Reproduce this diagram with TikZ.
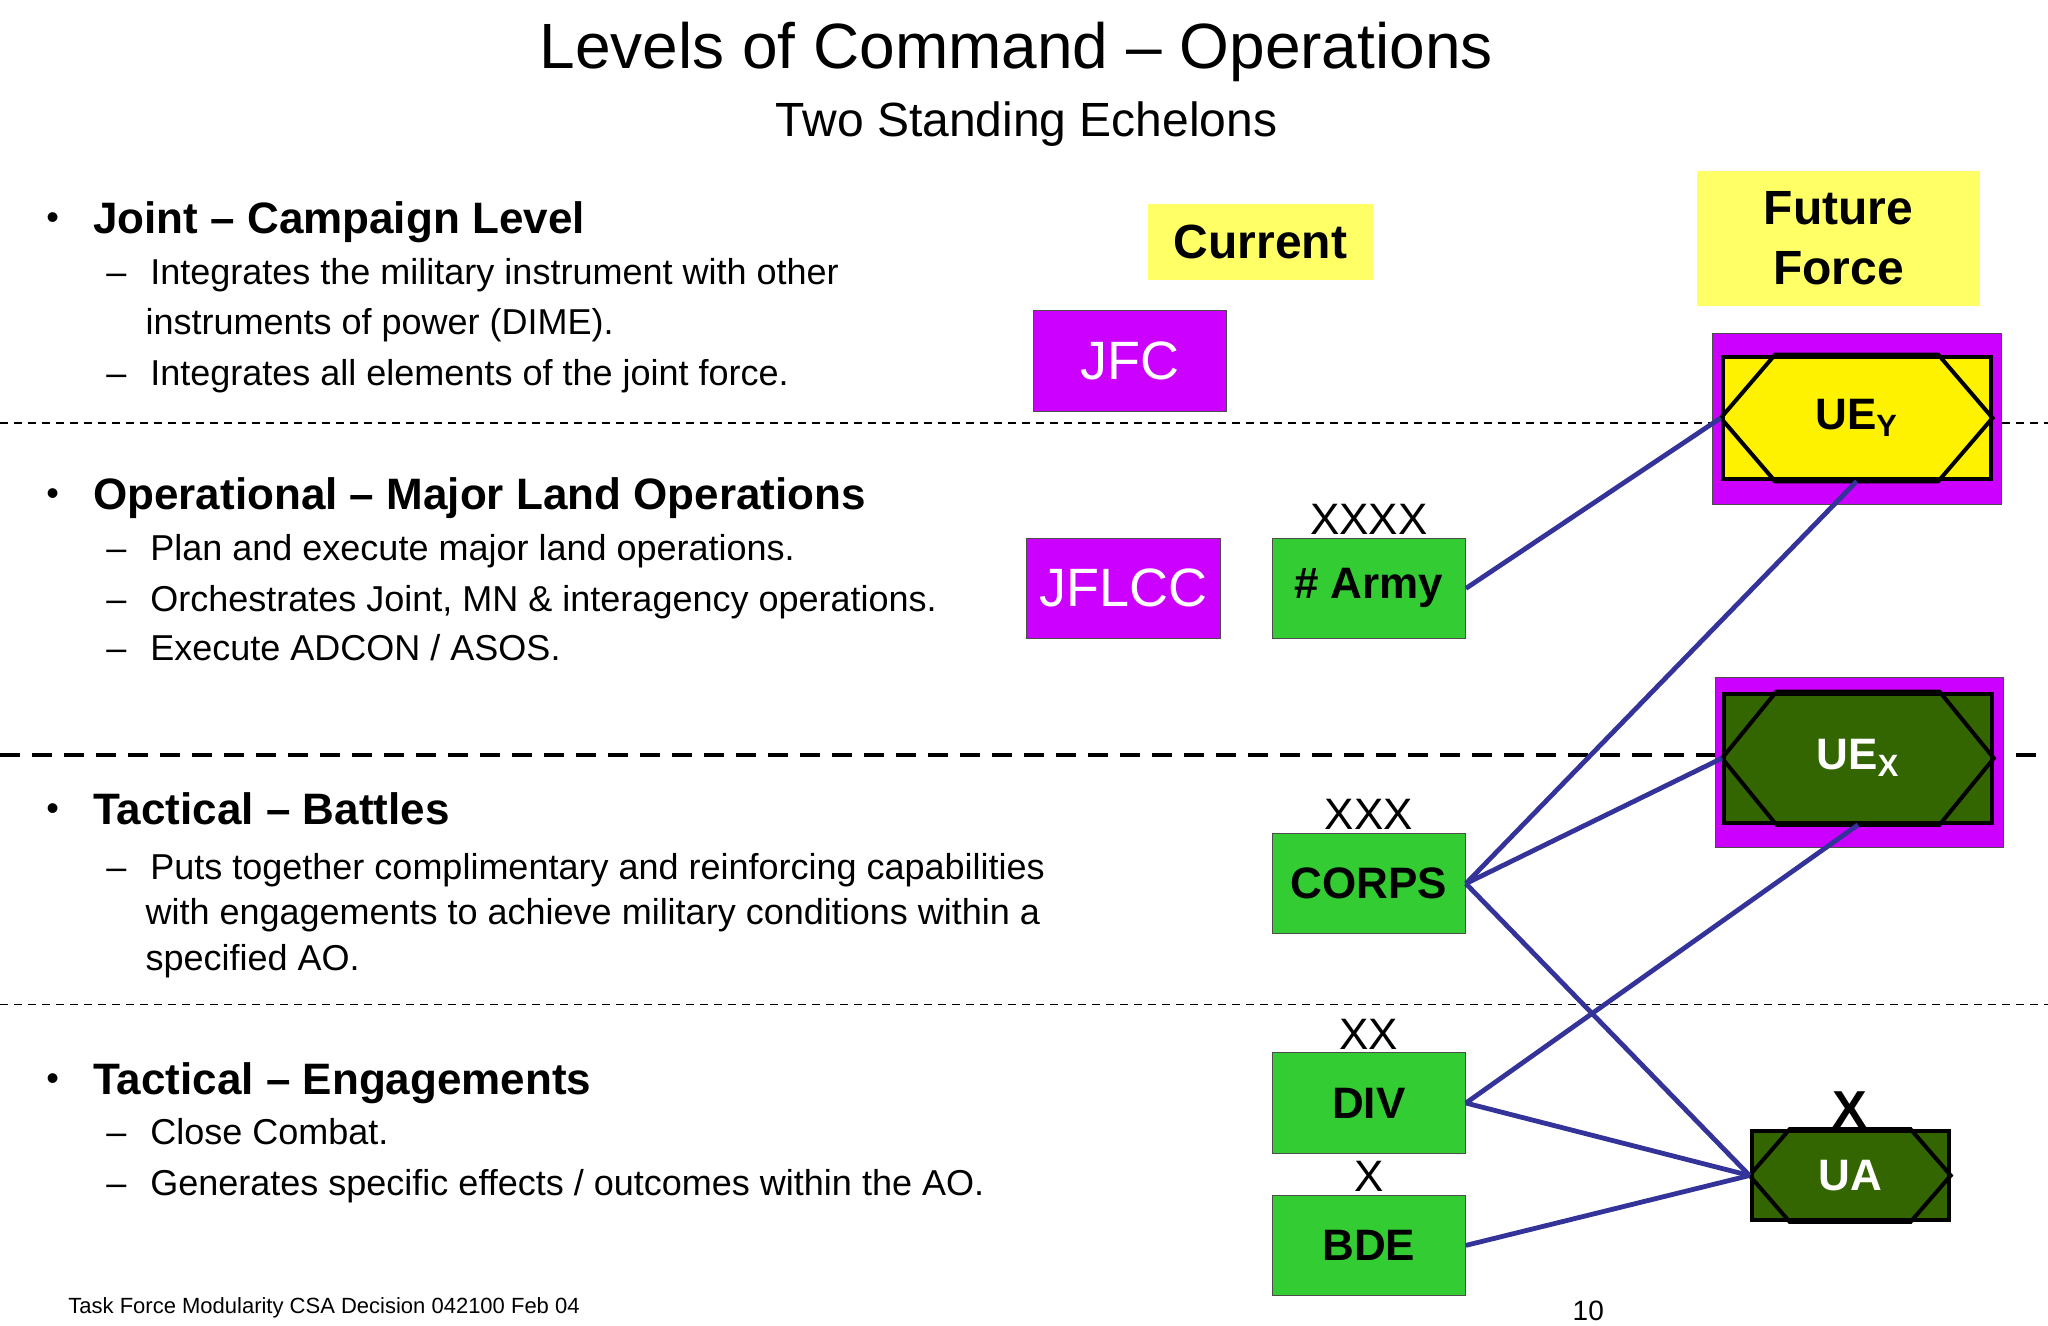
\documentclass[tikz,border=0pt]{standalone}
\usepackage{fontspec}
\setmainfont{Liberation Sans}
\usetikzlibrary{calc,positioning}
\definecolor{magbox}{HTML}{CC00FF}
\definecolor{grnbox}{HTML}{33CC33}
\definecolor{dkgreen}{HTML}{336600}
\definecolor{lblyel}{HTML}{FFFF66}
\definecolor{linkblue}{HTML}{333399}
\def\u{0.653pt}
\newcommand{\hexin}[1]{%
  \draw[line width=2pt] (#1.west) -- ($(#1.north west)!0.2!(#1.north east)$) -- ($(#1.north west)!0.8!(#1.north east)$)
    -- (#1.east) -- ($(#1.south west)!0.8!(#1.south east)$) -- ($(#1.south west)!0.2!(#1.south east)$) -- cycle;}
\begin{document}
\begin{tikzpicture}
  [ x=\u, y=-\u,
    head/.style={anchor=base west, font=\fontsize{22}{26}\selectfont\bfseries},
    item/.style={anchor=base west, font=\fontsize{18}{22}\selectfont},
    dot/.style={anchor=base west, font=\fontsize{18}{22}\selectfont},
    echelon/.style={draw=black!70, fill=grnbox, minimum width=148*\u, minimum height=77*\u,
      inner sep=0pt, font=\fontsize{22}{26}\selectfont\bfseries},
    joint/.style={draw=black!70, fill=magbox, minimum width=148*\u, minimum height=77*\u,
      inner sep=0pt, text=white, font=\fontsize{27}{30}\selectfont},
    marks/.style={font=\fontsize{22}{24}\selectfont, inner sep=0pt},
    link/.style={draw=linkblue, line width=2.4pt},
    sep/.style={dash pattern=on 4pt off 3pt, line width=0.8pt}
  ]
  \useasboundingbox (0,0) rectangle (1568,1014.5);
  % level separators
  \draw[sep] (0,324) -- (1568,324);
  \draw[dash pattern=on 10pt off 6pt, line width=2pt] (0,578) -- (1568,578);
  \draw[sep] (0,769) -- (1568,769);
  % title
  \node[font=\fontsize{32}{36}\selectfont] (title) at (778,40) {Levels of Command – Operations};
  \node[font=\fontsize{24}{28}\selectfont] (subtitle) at (786,95) {Two Standing Echelons};
  % bullets
  \node[dot] (b1) at (30,176) {•};
  \node[head] (h1) at (66,179) {Joint – Campaign Level};
  \node[item] (i11) at (76,218) {–\hspace{12pt}Integrates the military instrument with other};
  \node[item] (i12) at (106,256) {instruments of power (DIME).};
  \node[item] (i13) at (76,295) {–\hspace{12pt}Integrates all elements of the joint force.};
  \node[dot] (b2) at (30,387) {•};
  \node[head] (h2) at (66,390) {Operational – Major Land Operations};
  \node[item] (i21) at (76,429) {–\hspace{12pt}Plan and execute major land operations.};
  \node[item] (i22) at (76,468) {–\hspace{12pt}Orchestrates Joint, MN \& interagency operations.};
  \node[item] (i23) at (76,506) {–\hspace{12pt}Execute ADCON / ASOS.};
  \node[dot] (b3) at (30,628) {•};
  \node[head] (h3) at (66,631) {Tactical – Battles};
  \node[item] (i31) at (76,673) {–\hspace{12pt}Puts together complimentary and reinforcing capabilities};
  \node[item] (i32) at (106,708) {with engagements to achieve military conditions within a};
  \node[item] (i33) at (106,743) {specified AO.};
  \node[dot] (b4) at (30,835) {•};
  \node[head] (h4) at (66,838) {Tactical – Engagements};
  \node[item] (i41) at (76,876) {–\hspace{12pt}Close Combat.};
  \node[item] (i42) at (76,915) {–\hspace{12pt}Generates specific effects / outcomes within the AO.};
  % column labels
  \node[fill=lblyel, minimum width=172*\u, minimum height=58*\u, font=\fontsize{24}{28}\selectfont\bfseries] (current) at (965,185) {Current};
  \node[fill=lblyel, minimum width=217*\u, minimum height=103*\u, align=center, font=\fontsize{24}{30}\selectfont\bfseries] (future) at (1407.5,182.5) {Future\\Force};
  % current echelons
  \node[joint] (jfc) at (865,276.5) {JFC};
  \node[joint] (jflcc) at (860,450.5) {JFLCC};
  \node[echelon] (army) at (1048,450.5) {\# Army};
  \node[echelon] (corps) at (1048,676.5) {CORPS};
  \node[echelon] (div) at (1048,844.5) {DIV};
  \node[echelon] (bde) at (1048,953.5) {BDE};
  \node[marks, above=2*\u of army] (xxxx) {XXXX};
  \node[marks, above=2*\u of corps] (xxx) {XXX};
  \node[marks, above=2*\u of div] (xx) {XX};
  \node[marks, above=2*\u of bde] (x) {X};
  % future echelons
  \node[draw=black!70, fill=magbox, minimum width=221*\u, minimum height=131*\u] (ueyframe) at (1421.5,320.5) {};
  \node[draw, line width=2pt, fill=yellow, minimum width=205*\u, minimum height=94*\u, inner sep=0pt] (uey) at (1421.5,320) {};
  \hexin{uey}
  \node[font=\fontsize{22}{26}\selectfont\bfseries] at (uey) {UE\textsubscript{Y}};
  \node[draw=black!70, fill=magbox, minimum width=221*\u, minimum height=130*\u] (uexframe) at (1423.5,584) {};
  \node[draw, line width=2pt, fill=dkgreen, minimum width=205*\u, minimum height=99*\u, inner sep=0pt] (uex) at (1422.5,580.5) {};
  \hexin{uex}
  \node[text=white, font=\fontsize{22}{26}\selectfont\bfseries] at (uex) {UE\textsubscript{X}};
  \node[draw, line width=2pt, fill=dkgreen, minimum width=151*\u, minimum height=68*\u, inner sep=0pt] (ua) at (1416.5,900) {};
  \hexin{ua}
  \node[text=white, font=\fontsize{22}{26}\selectfont\bfseries] at (ua) {UA};
  \node[marks, font=\fontsize{26}{28}\selectfont\bfseries, above=1*\u of ua] (uax) {X};
  % links
  \draw[link] (army.east) -- (uey.west);
  \draw[link] (corps.east) -- (uey.south);
  \draw[link] (corps.east) -- (uex.west);
  \draw[link] (corps.east) -- (ua.west);
  \draw[link] (div.east) -- (uex.south);
  \draw[link] (div.east) -- (ua.west);
  \draw[link] (bde.east) -- (ua.west);
  % footer
  \node[anchor=base west, font=\fontsize{11}{13}\selectfont] (footer) at (47,1006) {Task Force Modularity CSA Decision 042100 Feb 04};
  \node[anchor=base, font=\fontsize{14}{16}\selectfont] (page) at (1216,1011) {10};
\end{tikzpicture}
\end{document}
